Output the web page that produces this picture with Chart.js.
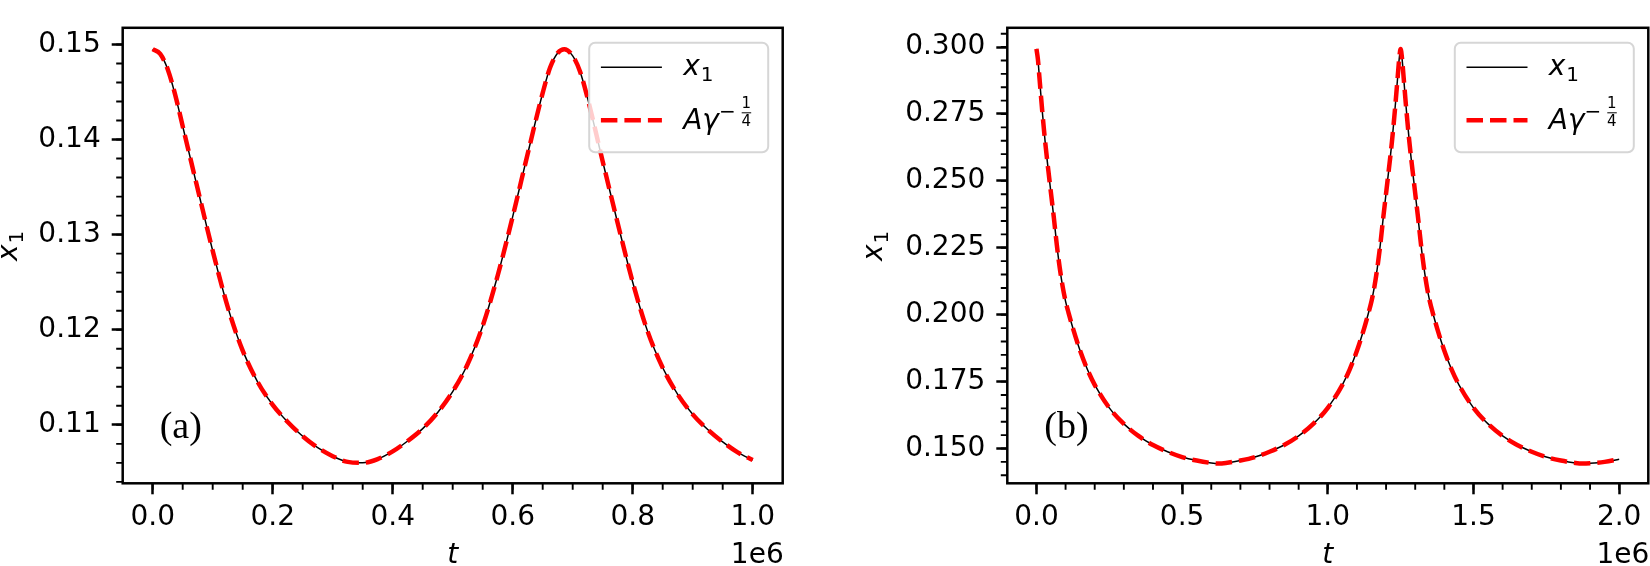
<!DOCTYPE html>
<html>
<head>
<meta charset="utf-8">
<script src="https://cdn.jsdelivr.net/npm/chart.js@4.4.0/dist/chart.umd.min.js"></script>
<style>
body{margin:0;background:#fff;width:1650px;height:566px;overflow:hidden;position:relative}
#panel_a{position:absolute;left:0;top:0}
#panel_b{position:absolute;left:820px;top:0}
</style>
</head>
<body>
<canvas id="panel_a" width="800" height="566"></canvas>
<canvas id="panel_b" width="830" height="566"></canvas>
<script>
// panel (a): t in units of 1e6
var t_a = [0, 0.0125, 0.025, 0.0375, 0.05, 0.075, 0.1, 0.125, 0.15, 0.175, 0.2, 0.225, 0.25, 0.275, 0.3, 0.325,
    0.35, 0.375, 0.4, 0.425, 0.45, 0.475, 0.5, 0.525, 0.55, 0.575, 0.6, 0.625, 0.65, 0.6625, 0.675, 0.686,
    0.7, 0.7125, 0.725, 0.75, 0.775, 0.8, 0.825, 0.85, 0.875, 0.9, 0.925, 0.95, 0.975, 1.0]
var x1_a = [0.1495, 0.1490, 0.1474, 0.1447, 0.1414, 0.1348, 0.1283, 0.1224, 0.1178, 0.1145, 0.1121, 0.1103, 0.1088, 0.1076, 0.1067, 0.1061,
    0.1060, 0.1064, 0.1072, 0.1083, 0.1096, 0.1113, 0.1135, 0.1164, 0.1204, 0.1257, 0.1319, 0.1385, 0.1449, 0.1476, 0.1491, 0.1495,
    0.1488, 0.1471, 0.1443, 0.1377, 0.1312, 0.1250, 0.1198, 0.1160, 0.1132, 0.1111, 0.1095, 0.1082, 0.1071, 0.1063]
var agamma_a = x1_a // both curves sit on top of each other

// panel (b)
var t_b = [0, 0.005, 0.01, 0.02, 0.03, 0.045, 0.06, 0.07, 0.08, 0.09, 0.1, 0.11, 0.125, 0.15, 0.175, 0.2, 0.25, 0.3, 0.35, 0.4,
    0.45, 0.5, 0.55, 0.6, 0.625, 0.65, 0.7, 0.75, 0.8, 0.85, 0.9, 0.95, 1.0, 1.05, 1.075, 1.1, 1.125, 1.14, 1.15, 1.16,
    1.17, 1.18, 1.19, 1.205, 1.22, 1.23, 1.24, 1.245, 1.25, 1.255, 1.26, 1.27, 1.28, 1.295, 1.31, 1.32, 1.33, 1.34, 1.35, 1.36,
    1.375, 1.4, 1.425, 1.45, 1.5, 1.55, 1.6, 1.65, 1.7, 1.75, 1.8, 1.85, 1.875, 1.9, 1.95, 2.0]
var x1_b = [0.2993, 0.2955, 0.2890, 0.2760, 0.2645, 0.2500, 0.2360, 0.2260, 0.2175, 0.2105, 0.2050, 0.2008, 0.1950, 0.1865, 0.1795, 0.1738, 0.1652, 0.1592, 0.1547, 0.1513,
    0.1488, 0.1468, 0.1455, 0.1446, 0.1444, 0.1446, 0.1455, 0.1468, 0.1488, 0.1513, 0.1547, 0.1592, 0.1652, 0.1738, 0.1795, 0.1865, 0.1950, 0.2008, 0.2050, 0.2105,
    0.2175, 0.2260, 0.2360, 0.2500, 0.2645, 0.2760, 0.2890, 0.2955, 0.2993, 0.2955, 0.2890, 0.2760, 0.2645, 0.2500, 0.2360, 0.2260, 0.2175, 0.2105, 0.2050, 0.2008,
    0.1950, 0.1865, 0.1795, 0.1738, 0.1652, 0.1592, 0.1547, 0.1513, 0.1488, 0.1468, 0.1455, 0.1446, 0.1444, 0.1445, 0.1450, 0.1460]
var agamma_b = x1_b

// ticks
var x_ticks_a = [0, 0.2, 0.4, 0.6, 0.8, 1.0]
var x_labels_a = ['0.0', '0.2', '0.4', '0.6', '0.8', '1.0']
var y_ticks_a = [0.11, 0.12, 0.13, 0.14, 0.15]
var y_labels_a = ['0.11', '0.12', '0.13', '0.14', '0.15']
var x_ticks_b = [0, 0.5, 1.0, 1.5, 2.0]
var x_labels_b = ['0.0', '0.5', '1.0', '1.5', '2.0']
var y_ticks_b = [0.150, 0.175, 0.200, 0.225, 0.250, 0.275, 0.300]
var y_labels_b = ['0.150', '0.175', '0.200', '0.225', '0.250', '0.275', '0.300']

var font_family = "'DejaVu Sans'"
var black = '#000'
var red = '#ff0000'

function steps(start, stop, step){
    var out = []
    var n = Math.round((stop - start) / step)
    for(var i = 0; i <= n; i++) out.push(start + i * step)
    return out
}

function toPoints(xs, ys){
    return xs.map(function(x, i){ return {x: x, y: ys[i]} })
}

// italic x with subscript 1
function drawX1(ctx, x, y){
    ctx.font = "italic 28px " + font_family
    ctx.fillText('x', x, y)
    var w = ctx.measureText('x').width
    ctx.font = "20px " + font_family
    ctx.fillText('1', x + w + 1, y + 5.5)
}

function drawLegend(chart){
    var ctx = chart.ctx
    var a = chart.chartArea
    var w = 179, h = 109.5
    var bx = a.right - 14.5 - w, by = a.top + 15
    ctx.save()
    ctx.beginPath()
    ctx.roundRect(bx, by, w, h, 6)
    ctx.fillStyle = 'rgba(255,255,255,0.8)'
    ctx.fill()
    ctx.lineWidth = 2
    ctx.strokeStyle = '#d6d6d6'
    ctx.stroke()

    // row 1: solid black
    ctx.beginPath()
    ctx.moveTo(bx + 11.7, by + 24.5)
    ctx.lineTo(bx + 72.7, by + 24.5)
    ctx.strokeStyle = black
    ctx.lineWidth = 1.5
    ctx.stroke()
    ctx.fillStyle = black
    ctx.textAlign = 'left'
    ctx.textBaseline = 'alphabetic'
    drawX1(ctx, bx + 94, by + 32.6)

    // row 2: red dashed
    ctx.beginPath()
    ctx.setLineDash([16.5, 7])
    ctx.lineCap = 'butt'
    ctx.moveTo(bx + 11.7, by + 77.5)
    ctx.lineTo(bx + 72.7, by + 77.5)
    ctx.strokeStyle = red
    ctx.lineWidth = 4.5
    ctx.stroke()
    ctx.setLineDash([])

    var tx = bx + 94, ty = by + 86
    ctx.font = "italic 28px " + font_family
    ctx.fillText('Aγ', tx, ty)
    tx += ctx.measureText('Aγ').width
    ctx.font = "20px " + font_family
    ctx.fillText('−', tx, ty - 11)
    tx += ctx.measureText('−').width + 6
    ctx.font = "15px " + font_family
    ctx.textAlign = 'center'
    ctx.fillText('1', tx + 4.5, ty - 20.5)
    ctx.fillText('4', tx + 4.5, ty - 3)
    ctx.fillRect(tx, ty - 16.5, 9.5, 1)
    ctx.restore()
}

function decoPlugin(cfg){
    return {
        id: 'deco_' + cfg.letter,
        afterDatasetsDraw: function(chart){
            var ctx = chart.ctx
            var a = chart.chartArea
            var xs = chart.scales.x, ys = chart.scales.y
            ctx.save()

            // frame
            ctx.strokeStyle = black
            ctx.lineWidth = 2.5
            ctx.strokeRect(a.left, a.top, a.right - a.left, a.bottom - a.top)

            // minor ticks
            ctx.lineWidth = 1.9
            ctx.beginPath()
            cfg.x_minor.forEach(function(v){
                var px = xs.getPixelForValue(v)
                if(px < a.left + 1 || px > a.right - 1) return
                ctx.moveTo(px, a.bottom)
                ctx.lineTo(px, a.bottom + 6.5)
            })
            cfg.y_minor.forEach(function(v){
                var py = ys.getPixelForValue(v)
                if(py < a.top + 1 || py > a.bottom - 1) return
                ctx.moveTo(a.left, py)
                ctx.lineTo(a.left - 6.5, py)
            })
            ctx.stroke()

            // panel letter
            ctx.fillStyle = black
            ctx.font = "38px 'Liberation Serif'"
            ctx.textAlign = 'left'
            ctx.textBaseline = 'alphabetic'
            ctx.fillText('(' + cfg.letter + ')', a.left + 37, 438)

            // axis labels
            ctx.font = "italic 28px " + font_family
            ctx.textAlign = 'center'
            ctx.fillText('t', (a.left + a.right) / 2, 563)
            ctx.font = "28px " + font_family
            ctx.textAlign = 'right'
            ctx.fillText('1e6', a.right + 1, 563)

            ctx.save()
            ctx.translate(cfg.ylab_x, 261)
            ctx.rotate(-Math.PI / 2)
            ctx.textAlign = 'left'
            drawX1(ctx, 0, 0)
            ctx.restore()

            ctx.restore()
            drawLegend(chart)
        }
    }
}

function makePanel(canvas_id, cfg){
    var tick_font = {family: 'DejaVu Sans', size: 28}
    var chart = new Chart(document.getElementById(canvas_id), {
        type: 'scatter',
        data: {
            datasets: [{
                label: 'x₁',
                data: toPoints(cfg.t, cfg.x1),
                showLine: true,
                borderColor: black,
                borderWidth: 1.5,
                pointRadius: 0,
                cubicInterpolationMode: 'monotone',
                order: 2
            }, {
                label: 'Aγ^(−1/4)',
                data: toPoints(cfg.t, cfg.agamma),
                showLine: true,
                borderColor: red,
                borderWidth: 4.5,
                borderDash: [16.5, 7],
                borderCapStyle: 'butt',
                pointRadius: 0,
                cubicInterpolationMode: 'monotone',
                order: 1
            }]
        },
        options: {
            responsive: false,
            animation: false,
            devicePixelRatio: 1,
            events: [],
            layout: {padding: {left: 0, right: cfg.pad_right, top: 1, bottom: 0}},
            plugins: {legend: {display: false}, tooltip: {enabled: false}},
            scales: {
                x: {
                    type: 'linear',
                    min: cfg.x_min,
                    max: cfg.x_max,
                    afterBuildTicks: function(s){ s.ticks = cfg.x_ticks.map(function(v){ return {value: v} }) },
                    afterFit: function(s){ s.height = 566 - 483.3 },
                    ticks: {
                        autoSkip: false, maxRotation: 0, color: black, font: tick_font, padding: 7,
                        callback: function(v, i){ return cfg.x_labels[i] }
                    },
                    grid: {drawOnChartArea: false, tickLength: 11, tickWidth: 2.5, tickColor: black},
                    border: {display: false}
                },
                y: {
                    type: 'linear',
                    min: cfg.y_min,
                    max: cfg.y_max,
                    afterBuildTicks: function(s){ s.ticks = cfg.y_ticks.map(function(v){ return {value: v} }) },
                    afterFit: function(s){ s.width = cfg.y_width },
                    ticks: {
                        autoSkip: false, color: black, font: tick_font, padding: 11,
                        callback: function(v, i){ return cfg.y_labels[i] }
                    },
                    grid: {drawOnChartArea: false, tickLength: 11, tickWidth: 2.5, tickColor: black},
                    border: {display: false}
                }
            }
        },
        plugins: [decoPlugin(cfg)]
    })
    return chart
}

var chart_a = makePanel('panel_a', {
    letter: 'a', t: t_a, x1: x1_a, agamma: agamma_a,
    x_min: -0.05, x_max: 1.05, y_min: 0.10385, y_max: 0.15175,
    x_ticks: x_ticks_a, x_labels: x_labels_a, y_ticks: y_ticks_a, y_labels: y_labels_a,
    x_minor: steps(0, 1.0, 0.05), y_minor: steps(0.104, 0.150, 0.002),
    y_width: 122.7, pad_right: 800 - 782.7, ylab_x: 17
})

var chart_b = makePanel('panel_b', {
    letter: 'b', t: t_b, x1: x1_b, agamma: agamma_b,
    x_min: -0.1, x_max: 2.1, y_min: 0.1370, y_max: 0.3072,
    x_ticks: x_ticks_b, x_labels: x_labels_b, y_ticks: y_ticks_b, y_labels: y_labels_b,
    x_minor: steps(0, 2.0, 0.1), y_minor: steps(0.140, 0.305, 0.005),
    y_width: 187.3, pad_right: 830 - 828.3, ylab_x: 62
})
</script>
</body>
</html>
